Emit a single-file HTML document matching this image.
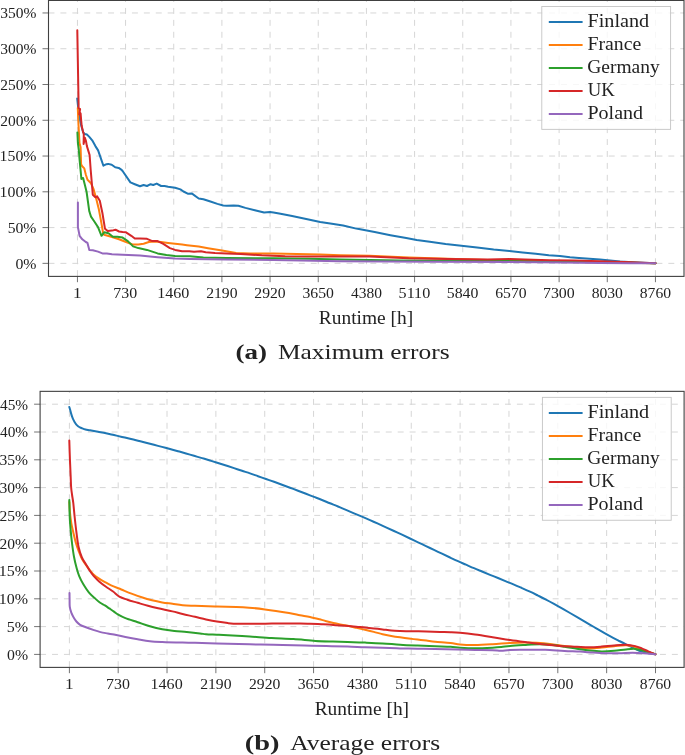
<!DOCTYPE html>
<html><head><meta charset="utf-8"><title>Errors vs runtime</title>
<style>
html,body{margin:0;padding:0;background:#fff;}
body{width:685px;height:755px;overflow:hidden;}
svg{display:block;}
text{font-family:"Liberation Serif", "DejaVu Serif", serif;fill:#222;}
</style></head>
<body>
<svg width="685" height="755" viewBox="0 0 685 755">
<path d="M77.45 276.4 V0.45 M125.56 276.4 V0.45 M173.73 276.4 V0.45 M221.9 276.4 V0.45 M270.07 276.4 V0.45 M318.24 276.4 V0.45 M366.42 276.4 V0.45 M414.59 276.4 V0.45 M462.76 276.4 V0.45 M510.93 276.4 V0.45 M559.11 276.4 V0.45 M607.28 276.4 V0.45 M655.45 276.4 V0.45" stroke="#d6d6d6" stroke-width="1" stroke-dasharray="5.96 5.96" stroke-dashoffset="-0.25" fill="none"/>
<path d="M48.5 263.35 H684 M48.5 227.58 H684 M48.5 191.81 H684 M48.5 156.04 H684 M48.5 120.27 H684 M48.5 84.5 H684 M48.5 48.73 H684 M48.5 12.96 H684" stroke="#d6d6d6" stroke-width="1" stroke-dasharray="5.96 5.96" fill="none"/>
<path d="M77.45 276.4 v5.8 M125.56 276.4 v5.8 M173.73 276.4 v5.8 M221.9 276.4 v5.8 M270.07 276.4 v5.8 M318.24 276.4 v5.8 M366.42 276.4 v5.8 M414.59 276.4 v5.8 M462.76 276.4 v5.8 M510.93 276.4 v5.8 M559.11 276.4 v5.8 M607.28 276.4 v5.8 M655.45 276.4 v5.8 M48.5 263.35 h-6 M48.5 227.58 h-6 M48.5 191.81 h-6 M48.5 156.04 h-6 M48.5 120.27 h-6 M48.5 84.5 h-6 M48.5 48.73 h-6 M48.5 12.96 h-6" stroke="#747474" stroke-width="1" fill="none"/>
<path d="M77.2 98.5 L77.9 104.8 L79.5 117.5 L81.1 125 L83.2 132.4 L84.8 134 L86.9 134.5 L89.1 136.6 L92.2 140.3 L95.4 146.1 L98.1 150.4 L100.7 157.8 L103.4 165.7 L106.5 164.2 L108.2 163.9 L111.7 164.7 L115.2 167.3 L118.7 167.9 L121.6 169.8 L122.6 171 L130.4 182.4 L134.8 184.2 L140 186.3 L143.6 185 L147 186 L150.6 184.2 L153.2 185 L156.7 183.6 L161.1 186 L164.6 186 L168.1 186.8 L175.1 187.7 L180.4 189.4 L183.5 191.5 L188.2 193.8 L191.7 193.4 L198.7 198.5 L203.4 199.2 L210.4 201.5 L217.4 203.9 L223.2 205.5 L226.7 205.7 L233.7 205.5 L238.4 205.7 L245.4 207.9 L254.8 210.2 L264.1 212.5 L270 212 L273.5 212.5 L280.5 213.7 L292.1 216 L306.2 219.1 L320.2 221.9 L331.9 223.8 L343.1 225.5 L356.3 228.6 L374.7 232 L390.4 235.2 L406.2 238.1 L416.7 239.9 L429.8 241.8 L445.6 244.1 L461.4 245.7 L477.1 247.6 L493.7 249.6 L509.4 251.1 L522.6 252.5 L535.7 253.8 L548.8 255.3 L560 256.1 L570 257.3 L579 258.1 L600 259.6 L620 261.6 L637 262.4 L655.5 263.3" stroke="#1f77b4" stroke-width="2.0" fill="none" stroke-linejoin="round" stroke-linecap="round"/>
<path d="M77.8 108 L78.1 116 L78.5 125 L79 134 L79.5 143 L80.6 147.2 L81.1 164.2 L82.2 166.3 L84.3 168.4 L85.8 174.5 L87.5 179.8 L91 183.3 L93.7 189.4 L96.3 199 L98.9 209.6 L101.5 223.6 L103.3 234.1 L105 235 L112 237 L119 239.3 L126 242 L133.1 244.6 L138.3 244.6 L143.6 243.7 L148.8 242 L154.1 241.5 L161.1 242 L168.1 242.9 L175.1 243.7 L182.1 244.6 L187 245.2 L198.7 246.6 L208 248.3 L222 250.6 L236.1 252.9 L250.1 253.4 L273.5 253.4 L296.8 254.1 L320.2 254.6 L340 255.2 L369.4 255.7 L408.8 257.5 L448.2 258.8 L487.6 259.9 L510 260.2 L560 261.4 L610 262.4 L655.5 263.3" stroke="#ff7f0e" stroke-width="2.0" fill="none" stroke-linejoin="round" stroke-linecap="round"/>
<path d="M77.4 132.4 L77.9 143 L78.8 150 L79.6 160 L80.5 169.3 L81.4 178.9 L83.1 178 L84.9 185 L86.6 192 L89.3 211.3 L91 216.6 L94.5 221.8 L98 227.1 L101.5 235.8 L104.2 232.3 L108.5 233.2 L112.9 236.7 L117.3 236.7 L122.6 237.6 L127.8 241.1 L133.1 246.4 L138.3 248.1 L147 249.9 L157.6 253.4 L166.4 255.1 L175.1 256 L190 256.3 L203.4 257.6 L226.7 258.1 L273.5 258.3 L308.5 258.8 L340 259.6 L400 260.5 L510 261.1 L600 262 L655.5 263.3" stroke="#2ca02c" stroke-width="2.0" fill="none" stroke-linejoin="round" stroke-linecap="round"/>
<path d="M77.3 30.3 L78.6 104.5 L78.5 108 L80.1 109.1 L79.3 114.4 L80.6 113.3 L81.1 119.7 L81.7 126 L82.7 130.3 L83.8 134.5 L83.6 144 L84.8 137.7 L85.9 140.8 L86.9 146.1 L88.5 151.4 L89.6 155 L90.7 170 L92.8 194.7 L95.4 197.3 L97.2 196.4 L99.8 200.8 L102.4 213 L105 228.8 L107.7 231 L112 230.6 L115.5 229.7 L119 231.5 L122.6 232 L126 232.3 L131.3 235.8 L134.8 238.5 L140 238.5 L147 238.8 L152.3 241.1 L157.6 241.1 L162.9 243.7 L169.9 248.1 L175.1 249.9 L182.1 251.2 L189.3 251.3 L194 251.8 L201 251.3 L205.7 252.2 L215 252.9 L226.7 253.4 L240.7 254.1 L261.8 255.3 L273.5 255.7 L285.1 256.2 L308.5 256.5 L340 256.6 L369.4 256.6 L408.8 258.3 L448.2 259.1 L487.6 259.6 L509.9 259.1 L524.8 259.6 L549.6 260.2 L574.4 260.6 L599.3 261.2 L624.1 261.9 L655.6 263.3" stroke="#d62728" stroke-width="2.0" fill="none" stroke-linejoin="round" stroke-linecap="round"/>
<path d="M77.9 202.6 L77.9 227.1 L79.6 235.8 L82.3 239.3 L85.8 242 L87.5 242.9 L89.3 249.9 L92.8 250.2 L98 251.6 L102.4 253.4 L106.8 253.4 L112 254.2 L122.6 254.8 L140 255.6 L157.6 257.2 L175.1 258.6 L190 259 L226.7 259.5 L273.5 259.9 L340 261.3 L430 261.8 L510 262 L560 262.6 L600 262.9 L630 263.2 L655.5 263.3" stroke="#9467bd" stroke-width="2.0" fill="none" stroke-linejoin="round" stroke-linecap="round"/>
<rect x="48.5" y="0.45" width="635.5" height="275.95" fill="none" stroke="#404040" stroke-width="1.1"/>
<rect x="541.8" y="6.45" width="128.8" height="122.9" fill="#fff" fill-opacity="0.8" stroke="#c4c4c4" stroke-width="0.9"/>
<path d="M548.8 22.05 H582.6" stroke="#1f77b4" stroke-width="2.0"/>
<path d="M548.8 45.05 H582.6" stroke="#ff7f0e" stroke-width="2.0"/>
<path d="M548.8 68.05 H582.6" stroke="#2ca02c" stroke-width="2.0"/>
<path d="M548.8 91.05 H582.6" stroke="#d62728" stroke-width="2.0"/>
<path d="M548.8 114.05 H582.6" stroke="#9467bd" stroke-width="2.0"/>
<path d="M69.4 667.4 V391.35 M118.18 667.4 V391.35 M167.03 667.4 V391.35 M215.87 667.4 V391.35 M264.72 667.4 V391.35 M313.57 667.4 V391.35 M362.42 667.4 V391.35 M411.26 667.4 V391.35 M460.11 667.4 V391.35 M508.96 667.4 V391.35 M557.81 667.4 V391.35 M606.65 667.4 V391.35 M655.5 667.4 V391.35" stroke="#d6d6d6" stroke-width="1" stroke-dasharray="5.96 5.96" stroke-dashoffset="-0.25" fill="none"/>
<path d="M40.1 654.4 H684.1 M40.1 626.6 H684.1 M40.1 598.8 H684.1 M40.1 571 H684.1 M40.1 543.2 H684.1 M40.1 515.4 H684.1 M40.1 487.6 H684.1 M40.1 459.8 H684.1 M40.1 432 H684.1 M40.1 404.2 H684.1" stroke="#d6d6d6" stroke-width="1" stroke-dasharray="5.96 5.96" fill="none"/>
<path d="M69.4 667.4 v5.8 M118.18 667.4 v5.8 M167.03 667.4 v5.8 M215.87 667.4 v5.8 M264.72 667.4 v5.8 M313.57 667.4 v5.8 M362.42 667.4 v5.8 M411.26 667.4 v5.8 M460.11 667.4 v5.8 M508.96 667.4 v5.8 M557.81 667.4 v5.8 M606.65 667.4 v5.8 M655.5 667.4 v5.8 M40.1 654.4 h-6 M40.1 626.6 h-6 M40.1 598.8 h-6 M40.1 571 h-6 M40.1 543.2 h-6 M40.1 515.4 h-6 M40.1 487.6 h-6 M40.1 459.8 h-6 M40.1 432 h-6 M40.1 404.2 h-6" stroke="#747474" stroke-width="1" fill="none"/>
<path d="M69.3 407 C69.45 407.5 69.92 408.98 70.2 410 C70.48 411.02 70.67 411.97 71 413.1 C71.33 414.23 71.77 415.63 72.2 416.8 C72.63 417.97 73.1 419.07 73.6 420.1 C74.1 421.13 74.62 422.12 75.2 423 C75.78 423.88 76.43 424.73 77.1 425.4 C77.77 426.07 78.47 426.57 79.2 427 C79.93 427.43 80.45 427.58 81.5 428 C82.55 428.42 84.08 429.12 85.5 429.5 C86.92 429.88 87.92 429.92 90 430.3 C92.08 430.68 95.33 431.3 98 431.8 C100.67 432.3 103.33 432.75 106 433.3 C108.67 433.85 111.33 434.5 114 435.1 C116.67 435.7 119.33 436.28 122 436.9 C124.67 437.52 127.33 438.17 130 438.8 C132.67 439.43 135.33 440.05 138 440.7 C140.67 441.35 143.33 442.02 146 442.7 C148.67 443.38 151.33 444.1 154 444.8 C156.67 445.5 159.33 446.2 162 446.9 C164.67 447.6 167.33 448.28 170 449 C172.67 449.72 175.33 450.45 178 451.2 C180.67 451.95 183.33 452.73 186 453.5 C188.67 454.27 191.33 455.03 194 455.8 C196.67 456.57 199.33 457.32 202 458.1 C204.67 458.88 207.33 459.68 210 460.5 C212.67 461.32 215.33 462.17 218 463 C220.67 463.83 223.33 464.65 226 465.5 C228.67 466.35 231.33 467.22 234 468.1 C236.67 468.98 239.33 469.92 242 470.8 C244.67 471.68 247.33 472.5 250 473.4 C252.67 474.3 255.33 475.27 258 476.2 C260.67 477.13 263.33 478.07 266 479 C268.67 479.93 271.33 480.85 274 481.8 C276.67 482.75 279.33 483.72 282 484.7 C284.67 485.68 287.33 486.7 290 487.7 C292.67 488.7 295.33 489.68 298 490.7 C300.67 491.72 303.33 492.77 306 493.8 C308.67 494.83 311.33 495.87 314 496.9 C316.67 497.93 319.33 498.93 322 500 C324.67 501.07 327.33 502.22 330 503.3 C332.67 504.38 335.33 505.4 338 506.5 C340.67 507.6 343.33 508.77 346 509.9 C348.67 511.03 351.33 512.17 354 513.3 C356.67 514.43 359.33 515.55 362 516.7 C364.67 517.85 367.33 519.03 370 520.2 C372.67 521.37 375.33 522.52 378 523.7 C380.67 524.88 383.33 526.08 386 527.3 C388.67 528.52 391.33 529.77 394 531 C396.67 532.23 399.33 533.45 402 534.7 C404.67 535.95 407.33 537.23 410 538.5 C412.67 539.77 415.33 541.03 418 542.3 C420.67 543.57 423.33 544.83 426 546.1 C428.67 547.37 431.33 548.63 434 549.9 C436.67 551.17 439.33 552.43 442 553.7 C444.67 554.97 447.33 556.25 450 557.5 C452.67 558.75 455.33 560 458 561.2 C460.67 562.4 463.33 563.53 466 564.7 C468.67 565.87 471.33 567.07 474 568.2 C476.67 569.33 479.33 570.4 482 571.5 C484.67 572.6 487.33 573.72 490 574.8 C492.67 575.88 495.33 576.92 498 578 C500.67 579.08 503.33 580.2 506 581.3 C508.67 582.4 511.33 583.47 514 584.6 C516.67 585.73 519.33 586.92 522 588.1 C524.67 589.28 527.33 590.45 530 591.7 C532.67 592.95 535.33 594.28 538 595.6 C540.67 596.92 543.33 598.22 546 599.6 C548.67 600.98 551.33 602.43 554 603.9 C556.67 605.37 559.33 606.88 562 608.4 C564.67 609.92 567.33 611.45 570 613 C572.67 614.55 575.33 616.13 578 617.7 C580.67 619.27 583.33 620.85 586 622.4 C588.67 623.95 591.33 625.47 594 627 C596.67 628.53 599.33 630.08 602 631.6 C604.67 633.12 607.33 634.65 610 636.1 C612.67 637.55 615.33 638.92 618 640.3 C620.67 641.68 623.33 643.08 626 644.4 C628.67 645.72 631.33 647 634 648.2 C636.67 649.4 638.45 650.58 642 651.6 C645.55 652.62 653.08 653.85 655.3 654.3" stroke="#1f77b4" stroke-width="2.0" fill="none" stroke-linejoin="round" stroke-linecap="round"/>
<path d="M69.4 502 C69.5 503.75 69.68 508.98 70 512.5 C70.32 516.02 70.75 519.78 71.3 523.1 C71.85 526.42 72.53 529.08 73.3 532.4 C74.07 535.72 75.02 539.92 75.9 543 C76.78 546.08 77.6 548.25 78.6 550.9 C79.6 553.55 80.68 556.58 81.9 558.9 C83.12 561.22 84.58 562.93 85.9 564.8 C87.22 566.67 88.48 568.43 89.8 570.1 C91.12 571.77 92.25 573.37 93.8 574.8 C95.35 576.23 97.07 577.38 99.1 578.7 C101.13 580.02 104 581.58 106 582.7 C108 583.82 108.55 584.27 111.1 585.4 C113.65 586.53 117.9 588.13 121.3 589.5 C124.7 590.87 128.1 592.3 131.5 593.6 C134.9 594.9 138.28 596.18 141.7 597.3 C145.12 598.42 148.58 599.45 152 600.3 C155.42 601.15 158.8 601.82 162.2 602.4 C165.6 602.98 169 603.33 172.4 603.8 C175.8 604.27 178.83 604.87 182.6 605.2 C186.37 605.53 189.27 605.57 195 605.8 C200.73 606.03 209 606.37 217 606.6 C225 606.83 235 606.73 243 607.2 C251 607.67 257.33 608.43 265 609.4 C272.67 610.37 283.17 612.03 289 613 C294.83 613.97 296.5 614.53 300 615.2 C303.5 615.87 306.38 616.22 310 617 C313.62 617.78 317.8 618.9 321.7 619.9 C325.6 620.9 329.52 622.1 333.4 623 C337.28 623.9 341.18 624.5 345 625.3 C348.82 626.1 352.97 627.05 356.3 627.8 C359.63 628.55 362.08 629.12 365 629.8 C367.92 630.48 370.87 631.17 373.8 631.9 C376.73 632.63 379.68 633.53 382.6 634.2 C385.52 634.87 388.38 635.38 391.3 635.9 C394.22 636.42 397.18 636.87 400.1 637.3 C403.02 637.73 405.88 638.12 408.8 638.5 C411.72 638.88 414.67 639.25 417.6 639.6 C420.53 639.95 423.48 640.25 426.4 640.6 C429.32 640.95 431.08 641.32 435.1 641.7 C439.12 642.08 446.33 642.43 450.5 642.9 C454.67 643.37 456.02 644.15 460.1 644.5 C464.18 644.85 469.58 645.05 475 645 C480.42 644.95 486.75 644.55 492.6 644.2 C498.45 643.85 504.85 643.2 510.1 642.9 C515.35 642.6 519.72 642.42 524.1 642.4 C528.48 642.38 531.75 642.48 536.4 642.8 C541.05 643.12 547.32 643.75 552 644.3 C556.68 644.85 560.35 645.57 564.5 646.1 C568.65 646.63 572.77 647.12 576.9 647.5 C581.03 647.88 585.17 648.38 589.3 648.4 C593.43 648.42 597.57 647.97 601.7 647.6 C605.83 647.23 610.05 646.6 614.1 646.2 C618.15 645.8 622.48 645.1 626 645.2 C629.52 645.3 632.35 645.93 635.2 646.8 C638.05 647.67 639.73 649.15 643.1 650.4 C646.47 651.65 653.35 653.65 655.4 654.3" stroke="#ff7f0e" stroke-width="2.0" fill="none" stroke-linejoin="round" stroke-linecap="round"/>
<path d="M69.3 499.9 C69.37 502.67 69.48 511.53 69.7 516.5 C69.92 521.47 70.22 525.28 70.6 529.7 C70.98 534.12 71.45 538.58 72 543 C72.55 547.42 73.13 552.02 73.9 556.2 C74.67 560.38 75.72 564.78 76.6 568.1 C77.48 571.42 78.1 573.45 79.2 576.1 C80.3 578.75 81.6 581.3 83.2 584 C84.8 586.7 86.88 589.95 88.8 592.3 C90.72 594.65 92.87 596.4 94.7 598.1 C96.53 599.8 98.1 601.28 99.8 602.5 C101.5 603.72 103.32 604.42 104.9 605.4 C106.48 606.38 107.78 607.37 109.3 608.4 C110.82 609.43 112.68 610.67 114 611.6 C115.32 612.53 115.3 612.92 117.2 614 C119.1 615.08 121.98 616.73 125.4 618.1 C128.82 619.47 133.62 620.83 137.7 622.2 C141.78 623.57 145.82 625.12 149.9 626.3 C153.98 627.48 158.12 628.52 162.2 629.3 C166.28 630.08 170.32 630.55 174.4 631 C178.48 631.45 182.43 631.6 186.7 632 C190.97 632.4 196.78 633.02 200 633.4 C203.22 633.78 203.18 634.08 206 634.3 C208.82 634.52 213.27 634.55 216.9 634.7 C220.53 634.85 222.33 634.9 227.8 635.2 C233.27 635.5 242.4 636.03 249.7 636.5 C257 636.97 264.3 637.57 271.6 638 C278.9 638.43 286.2 638.62 293.5 639.1 C300.8 639.58 308.82 640.48 315.4 640.9 C321.98 641.32 327.65 641.42 333 641.6 C338.35 641.78 342.17 641.83 347.5 642 C352.83 642.17 359.15 642.37 365 642.6 C370.85 642.83 376.75 643.05 382.6 643.4 C388.45 643.75 394.27 644.33 400.1 644.7 C405.93 645.07 411.77 645.33 417.6 645.6 C423.43 645.87 429.62 646.1 435.1 646.3 C440.58 646.5 446.33 646.57 450.5 646.8 C454.67 647.03 456.02 647.47 460.1 647.7 C464.18 647.93 469.58 648.2 475 648.2 C480.42 648.2 488.22 647.88 492.6 647.7 C496.98 647.52 498.38 647.4 501.3 647.1 C504.22 646.8 506.3 646.25 510.1 645.9 C513.9 645.55 519.18 645.27 524.1 645 C529.02 644.73 534.95 644.28 539.6 644.3 C544.25 644.32 547.85 644.68 552 645.1 C556.15 645.52 560.35 646.18 564.5 646.8 C568.65 647.42 572.77 648.17 576.9 648.8 C581.03 649.43 585.17 650.17 589.3 650.6 C593.43 651.03 597.57 651.37 601.7 651.4 C605.83 651.43 610.05 651.13 614.1 650.8 C618.15 650.47 622.48 649.72 626 649.4 C629.52 649.08 632.35 648.72 635.2 648.9 C638.05 649.08 639.73 649.6 643.1 650.5 C646.47 651.4 653.35 653.67 655.4 654.3" stroke="#2ca02c" stroke-width="2.0" fill="none" stroke-linejoin="round" stroke-linecap="round"/>
<path d="M69.3 440.6 C69.4 443.63 69.68 453.12 69.9 458.8 C70.12 464.48 70.4 470.05 70.6 474.7 C70.8 479.35 70.87 483.4 71.1 486.7 C71.33 490 71.63 491.75 72 494.5 C72.37 497.25 72.87 499.53 73.3 503.2 C73.73 506.87 74.05 511.42 74.6 516.5 C75.15 521.58 75.93 528.62 76.6 533.7 C77.27 538.78 77.72 543.03 78.6 547 C79.48 550.97 80.68 554.63 81.9 557.5 C83.12 560.37 84.58 561.98 85.9 564.2 C87.22 566.42 88.48 568.82 89.8 570.8 C91.12 572.78 92.25 574.33 93.8 576.1 C95.35 577.87 97.07 579.63 99.1 581.4 C101.13 583.17 103.67 585.02 106 586.7 C108.33 588.38 110.88 589.85 113.1 591.5 C115.32 593.15 116.92 595.23 119.3 596.6 C121.68 597.97 124.33 598.67 127.4 599.7 C130.47 600.73 134.28 601.78 137.7 602.8 C141.12 603.82 144.5 604.88 147.9 605.8 C151.3 606.72 154.02 607.37 158.1 608.3 C162.18 609.23 168.32 610.45 172.4 611.4 C176.48 612.35 178.83 613.1 182.6 614 C186.37 614.9 191.1 615.9 195 616.8 C198.9 617.7 202.35 618.6 206 619.4 C209.65 620.2 213.27 620.98 216.9 621.6 C220.53 622.22 224.15 622.73 227.8 623.1 C231.45 623.47 233.32 623.68 238.8 623.8 C244.28 623.92 253.4 623.87 260.7 623.8 C268 623.73 276.03 623.45 282.6 623.4 C289.17 623.35 295.53 623.43 300.1 623.5 C304.67 623.57 306.4 623.67 310 623.8 C313.6 623.93 317.8 624.12 321.7 624.3 C325.6 624.48 329.52 624.65 333.4 624.9 C337.28 625.15 341.18 625.48 345 625.8 C348.82 626.12 352.97 626.52 356.3 626.8 C359.63 627.08 362.08 627.23 365 627.5 C367.92 627.77 370.87 628.08 373.8 628.4 C376.73 628.72 379.68 629.05 382.6 629.4 C385.52 629.75 388.38 630.23 391.3 630.5 C394.22 630.77 397.18 630.88 400.1 631 C403.02 631.12 404.42 631.12 408.8 631.2 C413.18 631.28 421.2 631.38 426.4 631.5 C431.6 631.62 435.98 631.78 440 631.9 C444.02 632.02 447.15 632.05 450.5 632.2 C453.85 632.35 456.02 632.42 460.1 632.8 C464.18 633.18 469.58 633.77 475 634.5 C480.42 635.23 486.75 636.27 492.6 637.2 C498.45 638.13 504.27 639.23 510.1 640.1 C515.93 640.97 521.77 641.67 527.6 642.4 C533.43 643.13 539.7 643.92 545.1 644.5 C550.5 645.08 554.7 645.52 560 645.9 C565.3 646.28 572.02 646.57 576.9 646.8 C581.78 647.03 585.17 647.33 589.3 647.3 C593.43 647.27 597.57 646.92 601.7 646.6 C605.83 646.28 610.05 645.7 614.1 645.4 C618.15 645.1 622.48 644.68 626 644.8 C629.52 644.92 632.57 645.5 635.2 646.1 C637.83 646.7 639.62 647.52 641.8 648.4 C643.98 649.28 646.03 650.42 648.3 651.4 C650.57 652.38 654.22 653.82 655.4 654.3" stroke="#d62728" stroke-width="2.0" fill="none" stroke-linejoin="round" stroke-linecap="round"/>
<path d="M69.5 593 C69.52 594.17 69.55 597.68 69.6 600 C69.65 602.32 69.52 604.78 69.8 606.9 C70.08 609.02 70.68 611 71.3 612.7 C71.92 614.4 72.65 615.63 73.5 617.1 C74.35 618.57 75.3 620.22 76.4 621.5 C77.5 622.78 78.52 623.83 80.1 624.8 C81.68 625.77 83.72 626.45 85.9 627.3 C88.08 628.15 90.77 629.1 93.2 629.9 C95.63 630.7 98.07 631.5 100.5 632.1 C102.93 632.7 105.55 633.08 107.8 633.5 C110.05 633.92 111.07 634.03 114 634.6 C116.93 635.17 121.45 636.13 125.4 636.9 C129.35 637.67 133.62 638.48 137.7 639.2 C141.78 639.92 145.82 640.73 149.9 641.2 C153.98 641.67 156.75 641.77 162.2 642 C167.65 642.23 177.13 642.47 182.6 642.6 C188.07 642.73 189.28 642.65 195 642.8 C200.72 642.95 209.6 643.32 216.9 643.5 C224.2 643.68 231.5 643.72 238.8 643.9 C246.1 644.08 253.4 644.42 260.7 644.6 C268 644.78 275.3 644.85 282.6 645 C289.9 645.15 297.2 645.32 304.5 645.5 C311.8 645.68 319.23 645.92 326.4 646.1 C333.57 646.28 341.07 646.4 347.5 646.6 C353.93 646.8 359.15 647.1 365 647.3 C370.85 647.5 376.75 647.62 382.6 647.8 C388.45 647.98 394.27 648.25 400.1 648.4 C405.93 648.55 411.77 648.58 417.6 648.7 C423.43 648.82 428.45 648.98 435.1 649.1 C441.75 649.22 450.85 649.27 457.5 649.4 C464.15 649.53 469.15 649.75 475 649.9 C480.85 650.05 488.22 650.15 492.6 650.3 C496.98 650.45 498.38 650.87 501.3 650.8 C504.22 650.73 505.72 650.07 510.1 649.9 C514.48 649.73 521.77 649.82 527.6 649.8 C533.43 649.78 538.95 649.6 545.1 649.8 C551.25 650 558.68 650.7 564.5 651 C570.32 651.3 575.23 651.33 580 651.6 C584.77 651.87 588.72 652.33 593.1 652.6 C597.48 652.87 601.92 653.1 606.3 653.2 C610.68 653.3 615.02 653.27 619.4 653.2 C623.78 653.13 628.65 652.8 632.6 652.8 C636.55 652.8 639.3 652.95 643.1 653.2 C646.9 653.45 653.35 654.12 655.4 654.3" stroke="#9467bd" stroke-width="2.0" fill="none" stroke-linejoin="round" stroke-linecap="round"/>
<rect x="40.1" y="391.35" width="644" height="276.05" fill="none" stroke="#404040" stroke-width="1.1"/>
<rect x="542.4" y="397.35" width="128.8" height="122.9" fill="#fff" fill-opacity="0.8" stroke="#c4c4c4" stroke-width="0.9"/>
<path d="M548.8 412.95 H582.6" stroke="#1f77b4" stroke-width="2.0"/>
<path d="M548.8 435.95 H582.6" stroke="#ff7f0e" stroke-width="2.0"/>
<path d="M548.8 458.95 H582.6" stroke="#2ca02c" stroke-width="2.0"/>
<path d="M548.8 481.95 H582.6" stroke="#d62728" stroke-width="2.0"/>
<path d="M548.8 504.95 H582.6" stroke="#9467bd" stroke-width="2.0"/>
<text transform="translate(587.494 26.95) scale(1.136 1)" font-size="17.8">Finland</text>
<text transform="translate(587.506 49.95) scale(1.11 1)" font-size="17.8">France</text>
<text transform="translate(587.22 72.95) scale(1.096 1)" font-size="17.8">Germany</text>
<text transform="translate(587.626 95.95) scale(1.051 1)" font-size="17.8">UK</text>
<text transform="translate(587.5 118.95) scale(1.124 1)" font-size="17.8">Poland</text>
<text transform="translate(15.397 268.673) scale(1.146 1)" font-size="13.8">0%</text>
<text transform="translate(7.686 232.903) scale(1.138 1)" font-size="13.8">50%</text>
<text transform="translate(-0.393 197.133) scale(1.145 1)" font-size="13.8">100%</text>
<text transform="translate(-0.393 161.363) scale(1.145 1)" font-size="13.8">150%</text>
<text transform="translate(0.331 125.593) scale(1.122 1)" font-size="13.8">200%</text>
<text transform="translate(0.331 89.823) scale(1.122 1)" font-size="13.8">250%</text>
<text transform="translate(0.252 54.053) scale(1.125 1)" font-size="13.8">300%</text>
<text transform="translate(0.252 18.283) scale(1.125 1)" font-size="13.8">350%</text>
<text transform="translate(72.939 297.8) scale(1.245 1)" font-size="13.8">1</text>
<text transform="translate(113.371 297.8) scale(1.154 1)" font-size="13.8">730</text>
<text transform="translate(157.263 297.8) scale(1.164 1)" font-size="13.8">1460</text>
<text transform="translate(206.173 297.8) scale(1.137 1)" font-size="13.8">2190</text>
<text transform="translate(254.345 297.8) scale(1.137 1)" font-size="13.8">2920</text>
<text transform="translate(302.437 297.8) scale(1.14 1)" font-size="13.8">3650</text>
<text transform="translate(351.085 297.8) scale(1.122 1)" font-size="13.8">4380</text>
<text transform="translate(398.602 297.8) scale(1.168 1)" font-size="13.8">5110</text>
<text transform="translate(446.792 297.8) scale(1.146 1)" font-size="13.8">5840</text>
<text transform="translate(495.206 297.8) scale(1.137 1)" font-size="13.8">6570</text>
<text transform="translate(542.973 297.8) scale(1.152 1)" font-size="13.8">7300</text>
<text transform="translate(591.63 297.8) scale(1.134 1)" font-size="13.8">8030</text>
<text transform="translate(639.802 297.8) scale(1.134 1)" font-size="13.8">8760</text>
<text transform="translate(318.814 324.1) scale(1.092 1)" font-size="17.8">Runtime [h]</text>
<text transform="translate(587.494 417.85) scale(1.136 1)" font-size="17.8">Finland</text>
<text transform="translate(587.506 440.85) scale(1.11 1)" font-size="17.8">France</text>
<text transform="translate(587.22 463.85) scale(1.096 1)" font-size="17.8">Germany</text>
<text transform="translate(587.626 486.85) scale(1.051 1)" font-size="17.8">UK</text>
<text transform="translate(587.5 509.85) scale(1.124 1)" font-size="17.8">Poland</text>
<text transform="translate(7.047 659.723) scale(1.146 1)" font-size="13.8">0%</text>
<text transform="translate(6.716 631.923) scale(1.164 1)" font-size="13.8">5%</text>
<text transform="translate(-1.158 604.123) scale(1.158 1)" font-size="13.8">10%</text>
<text transform="translate(-1.158 576.323) scale(1.158 1)" font-size="13.8">15%</text>
<text transform="translate(-0.423 548.523) scale(1.128 1)" font-size="13.8">20%</text>
<text transform="translate(-0.423 520.723) scale(1.128 1)" font-size="13.8">25%</text>
<text transform="translate(-0.503 492.923) scale(1.131 1)" font-size="13.8">30%</text>
<text transform="translate(-0.503 465.123) scale(1.131 1)" font-size="13.8">35%</text>
<text transform="translate(-0.03 437.323) scale(1.112 1)" font-size="13.8">40%</text>
<text transform="translate(-0.03 409.523) scale(1.112 1)" font-size="13.8">45%</text>
<text transform="translate(64.889 688.9) scale(1.245 1)" font-size="13.8">1</text>
<text transform="translate(105.995 688.9) scale(1.154 1)" font-size="13.8">730</text>
<text transform="translate(150.562 688.9) scale(1.164 1)" font-size="13.8">1460</text>
<text transform="translate(200.147 688.9) scale(1.137 1)" font-size="13.8">2190</text>
<text transform="translate(248.995 688.9) scale(1.137 1)" font-size="13.8">2920</text>
<text transform="translate(297.761 688.9) scale(1.14 1)" font-size="13.8">3650</text>
<text transform="translate(347.084 688.9) scale(1.122 1)" font-size="13.8">4380</text>
<text transform="translate(395.277 688.9) scale(1.168 1)" font-size="13.8">5110</text>
<text transform="translate(444.141 688.9) scale(1.146 1)" font-size="13.8">5840</text>
<text transform="translate(493.231 688.9) scale(1.137 1)" font-size="13.8">6570</text>
<text transform="translate(541.672 688.9) scale(1.152 1)" font-size="13.8">7300</text>
<text transform="translate(591.005 688.9) scale(1.134 1)" font-size="13.8">8030</text>
<text transform="translate(639.852 688.9) scale(1.134 1)" font-size="13.8">8760</text>
<text transform="translate(314.664 715.1) scale(1.092 1)" font-size="17.8">Runtime [h]</text>
<text transform="translate(235.522 359.1) scale(1.226 1)" font-size="22" font-weight="bold">(a)</text>
<text transform="translate(277.964 359.1) scale(1.157 1)" font-size="22">Maximum errors</text>
<text transform="translate(244.662 749.7) scale(1.293 1)" font-size="22" font-weight="bold">(b)</text>
<text transform="translate(290.273 749.7) scale(1.157 1)" font-size="22">Average errors</text>
</svg>
</body></html>
